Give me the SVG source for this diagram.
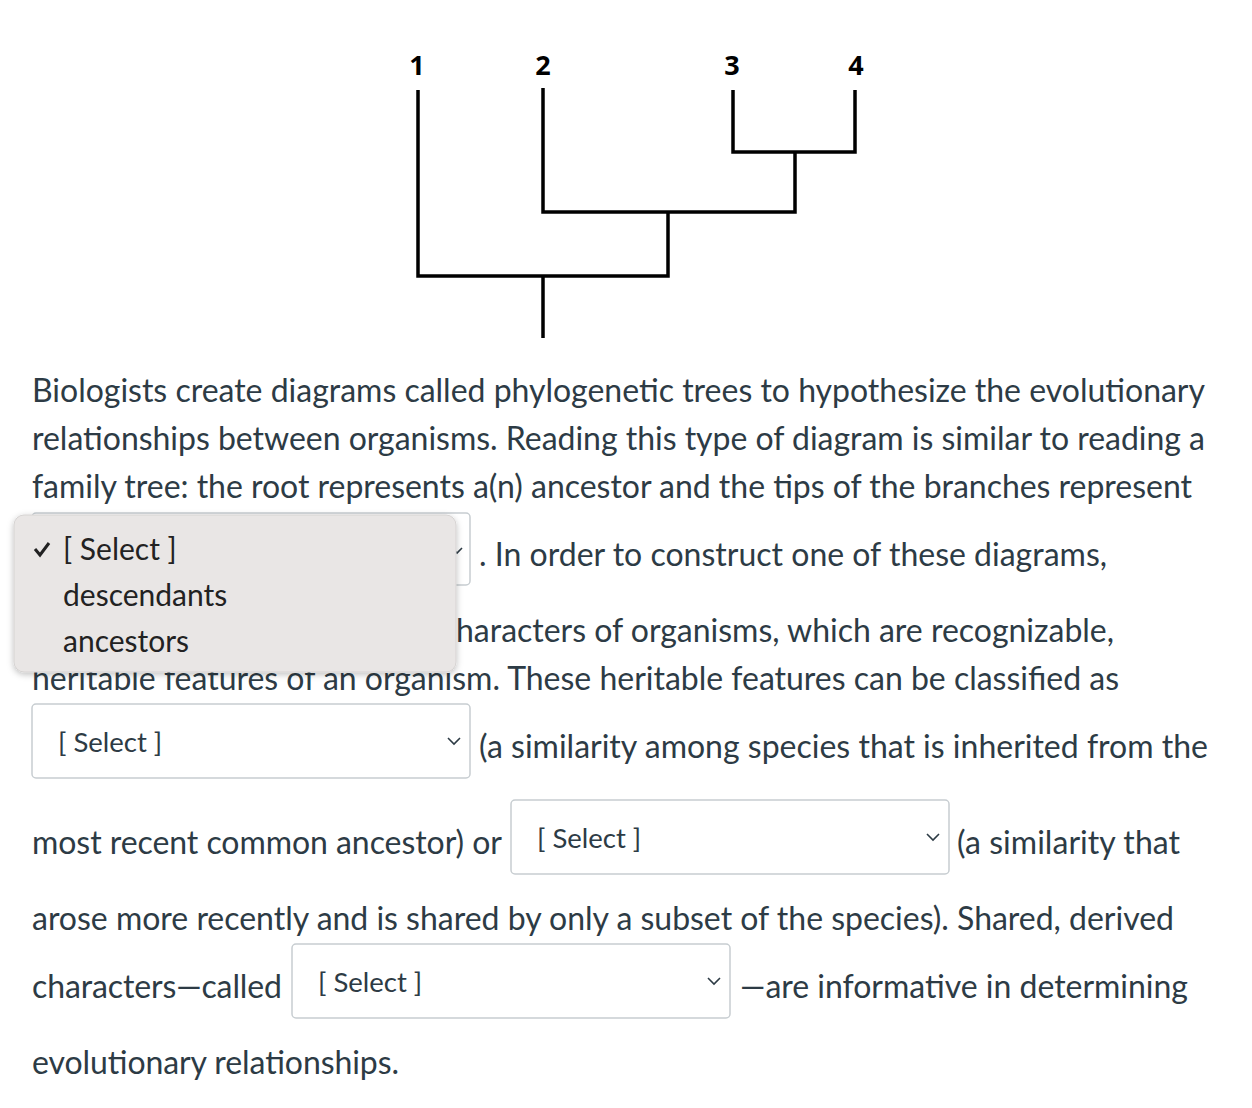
<svg xmlns="http://www.w3.org/2000/svg" width="1252" height="1108" viewBox="0 0 1252 1108">
<style>
.t{font-family:Lato,"Open Sans",sans-serif;font-size:32px;fill:#2d3b45}
.n{font-family:"Open Sans",Lato,sans-serif;font-size:27px;font-weight:bold;fill:#000}
.s{font-family:Lato,sans-serif;font-size:27.5px;fill:#2d3b45}
.p{font-family:Lato,sans-serif;font-size:30px;fill:#222}
.box{fill:#fff;stroke:#c7cdd1;stroke-width:1.5}
.chev{fill:none;stroke:#2d3b45;stroke-width:1.6}
.tree{fill:none;stroke:#000;stroke-width:3.5}
</style>
<defs><filter id="sh" x="-10%" y="-10%" width="120%" height="130%"><feDropShadow dx="0" dy="2" stdDeviation="3" flood-opacity="0.25"/></filter></defs>
<rect width="1252" height="1108" fill="#fff"/>
<g id="tree-labels">
<text class="n" x="417" y="75" text-anchor="middle">1</text>
<text class="n" x="543" y="75" text-anchor="middle">2</text>
<text class="n" x="732" y="75" text-anchor="middle">3</text>
<text class="n" x="856" y="75" text-anchor="middle">4</text>
</g>
<g id="connectors">
<path class="tree" d="M418 90V276H668V212M543 88V212H795V152M733 90V152H855V90M543 276V338"/>
</g>
<g id="text">
<text class="t" x="32" y="402" textLength="1173">Biologists create diagrams called phylogenetic trees to hypothesize the evolutionary</text>
<text class="t" x="32" y="450" textLength="1173">relationships between organisms. Reading this type of diagram is similar to reading a</text>
<text class="t" x="32" y="498" textLength="1160">family tree: the root represents a(n) ancestor and the tips of the branches represent</text>
<text class="t" x="479" y="566" textLength="628">. In order to construct one of these diagrams,</text>
<text class="t" x="456" y="642" textLength="658">haracters of organisms, which are recognizable,</text>
<text class="t" x="32" y="690" textLength="1087">heritable features of an organism. These heritable features can be classified as</text>
<text class="t" x="479" y="758" textLength="729">(a similarity among species that is inherited from the</text>
<text class="t" x="32" y="854" textLength="470">most recent common ancestor) or</text>
<text class="t" x="957" y="854" textLength="223">(a similarity that</text>
<text class="t" x="32" y="930" textLength="1142">arose more recently and is shared by only a subset of the species). Shared, derived</text>
<text class="t" x="32" y="998" textLength="250">characters—called</text>
<text class="t" x="740" y="998" textLength="448">—are informative in determining</text>
<text class="t" x="32" y="1074" textLength="367">evolutionary relationships.</text>
</g>
<g id="select1">
<rect class="box" x="32" y="513" width="438" height="72" rx="4"/>
<path class="chev" d="M452 548l5 5 5-5"/>
</g>
<g id="select2">
<rect class="box" x="32" y="704" width="438" height="74" rx="4"/>
<text class="s" x="58" y="752">[ Select ]</text>
<path class="chev" d="M448 738l6 6 6-6"/>
</g>
<g id="select3">
<rect class="box" x="511" y="800" width="438" height="74" rx="4"/>
<text class="s" x="537" y="848">[ Select ]</text>
<path class="chev" d="M927 834l6 6 6-6"/>
</g>
<g id="select4">
<rect class="box" x="292" y="944" width="438" height="74" rx="4"/>
<text class="s" x="318" y="992">[ Select ]</text>
<path class="chev" d="M708 978l6 6 6-6"/>
</g>
<g id="popup">
<rect x="14" y="515" width="442" height="157" rx="10" fill="#e9e6e5" stroke="#d6d3d2" filter="url(#sh)"/>
<path d="M35 549l5 6 9-12" fill="none" stroke="#222" stroke-width="3"/>
<text class="p" x="63" y="560">[ Select ]</text>
<text class="p" x="63" y="606">descendants</text>
<text class="p" x="63" y="652">ancestors</text>
</g>
</svg>
